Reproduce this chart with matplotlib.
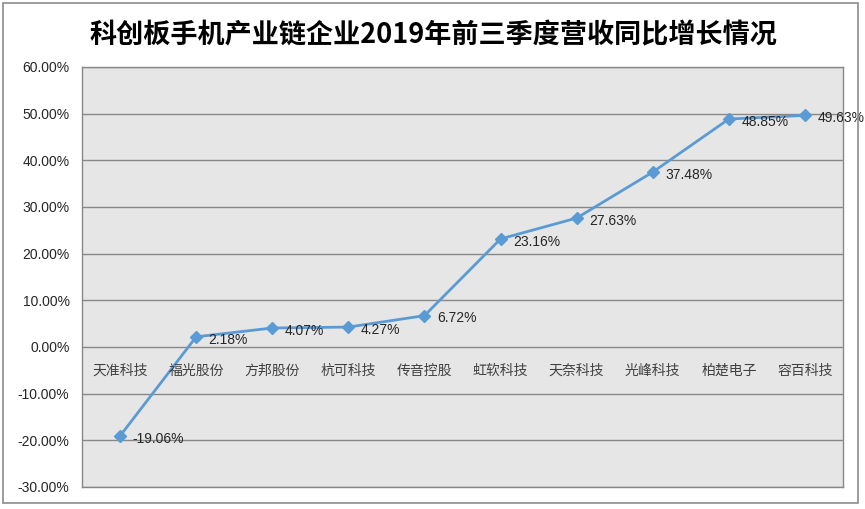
import matplotlib
matplotlib.use("Agg")
import matplotlib.pyplot as plt
from matplotlib.patches import Rectangle

plt.rcParams['font.family'] = ['Noto Sans CJK SC', 'DejaVu Sans']

empresas = ["天准科技", "福光股份", "方邦股份", "杭可科技", "传音控股",
            "虹软科技", "天奈科技", "光峰科技", "柏楚电子", "容百科技"]
crecimiento = [-19.06, 2.18, 4.07, 4.27, 6.72, 23.16, 27.63, 37.48, 48.85, 49.63]
yticks = [-30, -20, -10, 0, 10, 20, 30, 40, 50, 60]
titulo = "科创板手机产业链企业2019年前三季度营收同比增长情况"

fig = plt.figure(figsize=(8.65, 5.09), dpi=100)
fig.patch.set_facecolor("white")
# marco del grafico
fig.add_artist(Rectangle((3 / 865, 1 - 503 / 509), 855 / 865, 500 / 509,
                         transform=fig.transFigure, fill=False,
                         edgecolor="#8c8c8c", linewidth=1.2))

ax = fig.add_axes([82 / 865, 1 - 487 / 509, 761 / 865, 420 / 509])
ax.set_facecolor("#e6e6e6")
x = list(range(len(empresas)))
ax.plot(x, crecimiento, color="#5b9bd5", linewidth=2, marker="D",
        markersize=6, zorder=3)

for xi, v in zip(x, crecimiento):
    ax.annotate(f"{v:.2f}%", (xi, v), xytext=(9, -2), textcoords="offset points",
                ha="left", va="center", fontsize=10, color="#262626",
                family=["Liberation Sans", "DejaVu Sans"], zorder=4)

for xi, nombre in zip(x, empresas):
    ax.annotate(nombre, (xi, 0), xytext=(0, -17), textcoords="offset points",
                ha="center", va="center", fontsize=10, color="#404040")

ax.set_xlim(-0.5, len(empresas) - 0.5)
ax.set_ylim(-30, 60)
ax.set_yticks(yticks)
ax.set_yticklabels([f"{t:.2f}%" for t in yticks], fontsize=10, color="#262626",
                   family=["Liberation Sans", "DejaVu Sans"])
ax.set_xticks([])
ax.tick_params(axis="y", length=0, pad=9)
ax.grid(axis="y", color="#888888", linewidth=1)
ax.set_axisbelow(True)
for s in ax.spines.values():
    s.set_color("#888888")
    s.set_linewidth(1)

fig.text(433 / 865, 1 - 35 / 509, titulo, ha="center", va="center",
         fontsize=19.5, fontweight="bold", color="black")

fig.savefig("out.png", dpi=100)
